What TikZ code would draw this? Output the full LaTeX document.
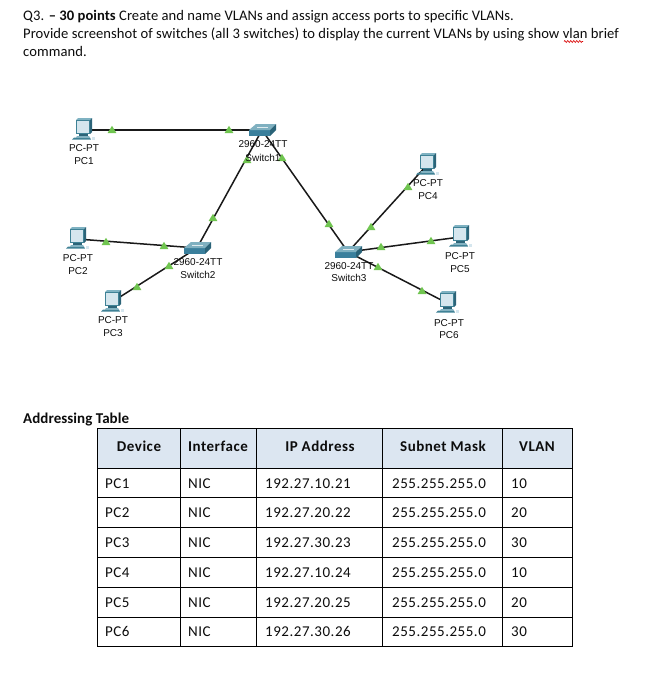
\documentclass[tikz,border=0pt]{standalone}
\usepackage{fontspec}
\setmainfont{Carlito}
\newfontfamily\pkfont{Liberation Sans}
\newfontfamily\cellfont[LetterSpace=3.5]{Carlito}
\newfontfamily\headfont[LetterSpace=0.4]{Carlito}
\usetikzlibrary{decorations.pathmorphing}
\definecolor{hdr}{HTML}{DCE6F1}
\definecolor{pcteal}{HTML}{3F8296}
\definecolor{pcdark}{HTML}{2C6478}
\definecolor{pclight}{HTML}{7FB2C2}
\definecolor{pcscreen}{HTML}{D5E6EE}
\definecolor{swtop}{HTML}{7FB0C0}
\definecolor{swfront}{HTML}{3A7F9C}
\definecolor{swside}{HTML}{2A6378}
\definecolor{linkgreen}{HTML}{70C550}
\tikzset{
  x=1pt,y=-1pt,
  body/.style={font=\headfont\fontsize{14.6}{16}\selectfont,anchor=base west,inner sep=0pt,text=black!95},
  cell/.style={font=\cellfont\fontsize{15}{16}\selectfont,anchor=base west,inner sep=0pt,text=black!95},
  headcell/.style={font=\cellfont\fontsize{15}{16}\selectfont\bfseries,anchor=base,inner sep=0pt,text=black!95},
  devlabel/.style={font=\pkfont\fontsize{10}{11}\selectfont,inner sep=0pt,anchor=base,text=black!95},
  anchorbox/.style={inner sep=0pt,minimum width=2pt,minimum height=2pt},
  link/.style={draw=black!90,line width=1.5pt},
  grid/.style={draw=black,line width=0.8pt},
  pcicon/.pic={
    \fill[pclight] (-7,-10) -- (-5,-12) -- (9,-12) -- (7,-10) -- cycle;
    \fill[pcdark] (7,-10) -- (9,-12) -- (9,2) -- (7,4) -- cycle;
    \fill[pcteal] (-7,-10) rectangle (7,4);
    \fill[pcscreen] (-5.8,-8.8) rectangle (6,2.6);
    \fill[pcdark] (-4,4) rectangle (5,6);
    \fill[pclight] (-6,6) -- (6,6) -- (7,7.5) -- (-7,7.5) -- cycle;
    \fill[pcteal] (-9,7.5) -- (7,7.5) -- (8,9.5) -- (-11,9.5) -- cycle;
    \fill[pcscreen] (9,7) rectangle (12,9.5);
  },
  swicon/.pic={
    \fill[swfront] (-13,0) -- (8,0) -- (8,6) -- (-13,6) -- cycle;
    \fill[swtop] (-13,0) -- (-6,-6) -- (14,-6) -- (8,0) -- cycle;
    \fill[swside] (8,0) -- (14,-6) -- (14,0) -- (8,6) -- cycle;
    \draw[white!75!swtop,line width=0.5pt] (-5,-3) -- (6,-3);
  },
  flag/.pic={\fill[linkgreen] (0,-4.2) -- (4.4,3) -- (-4.4,3) -- cycle;}
}
\begin{document}
\begin{tikzpicture}
\useasboundingbox (0,0) rectangle (663,681);
\fill[white] (0,0) rectangle (663,681);

% heading
\node[body] (t1) at (23,20) {Q3. \textbf{– 30 points} Create and name VLANs and assign access ports to specific VLANs.};
\node[body] (t2) at (23,38) {Provide screenshot of switches (all 3 switches) to display the current VLANs by using show vlan brief};
\node[body] (t3) at (23,56) {command.};
\draw[red!85!black,line width=0.6pt,decorate,decoration={zigzag,amplitude=1pt,segment length=3pt}] (564,41.5) -- (583,41.5);

% device anchors
\node[anchorbox] (pc1) at (83,130) {};
\node[anchorbox] (pc2) at (77,239) {};
\node[anchorbox] (pc3) at (112,302) {};
\node[anchorbox] (pc4) at (427,165) {};
\node[anchorbox] (pc5) at (460,237) {};
\node[anchorbox] (pc6) at (447,303) {};
\node[anchorbox] (s1) at (262,130) {};
\node[anchorbox] (s2) at (197,248) {};
\node[anchorbox] (s3) at (348,252) {};

% links
\draw[link] (pc1) -- (s1);
\draw[link] (pc2) -- (s2);
\draw[link] (pc3) -- (s2);
\draw[link] (s1) -- (s2);
\draw[link] (s1) -- (s3);
\draw[link] (pc4) -- (s3);
\draw[link] (pc5) -- (s3);
\draw[link] (pc6) -- (s3);

% icons
\foreach \p in {pc1,pc2,pc3,pc4,pc5,pc6} \pic at (\p) {pcicon};
\foreach \p in {s1,s2,s3} \pic at (\p) {swicon};

% link lights
\foreach \a/\b in {112/130,229/130,247/160,213/218,282/158,329/224,106/242,164/246,169/266,137/287,408/187,371/227,431/241,381/247,378/267,422/291}
  \pic at (\a,\b) {flag};

% labels
\node[devlabel] (l1a) at (84,151) {PC-PT};
\node[devlabel] (l1b) at (84,164) {PC1};
\node[devlabel] (l2a) at (78,261) {PC-PT};
\node[devlabel] (l2b) at (78,274) {PC2};
\node[devlabel] (l3a) at (113,323) {PC-PT};
\node[devlabel] (l3b) at (113,336) {PC3};
\node[devlabel] (l4a) at (428,186) {PC-PT};
\node[devlabel] (l4b) at (428,199) {PC4};
\node[devlabel] (l5a) at (460,259) {PC-PT};
\node[devlabel] (l5b) at (460,272) {PC5};
\node[devlabel] (l6a) at (449,326) {PC-PT};
\node[devlabel] (l6b) at (449,338) {PC6};
\node[devlabel] (ls1a) at (263,147) {2960-24TT};
\node[devlabel] (ls1b) at (263,161) {Switch1};
\node[devlabel] (ls2a) at (198,265) {2960-24TT};
\node[devlabel] (ls2b) at (198,278) {Switch2};
\node[devlabel] (ls3a) at (349,269) {2960-24TT};
\node[devlabel] (ls3b) at (349,281) {Switch3};

% table
\node[body,font=\headfont\fontsize{15}{16}\selectfont\bfseries] (tt) at (23,423) {Addressing Table};
\fill[hdr] (97,428) rectangle (572,468);
\draw[grid] (97,428) rectangle (572,646);
\foreach \y in {468,497.5,527.5,557.5,587.5,617}
  \draw[grid] (97,\y) -- (572,\y);
\foreach \x in {180,256,382,502}
  \draw[grid] (\x,428) -- (\x,646);

\node[headcell] (h1) at (139,451) {Device};
\node[headcell] (h2) at (218,451) {Interface};
\node[headcell] (h3) at (320,451) {IP Address};
\node[headcell] (h4) at (443,451) {Subnet Mask};
\node[headcell] (h5) at (537,451) {VLAN};

\foreach \y/\d/\ip/\v in {488/PC1/192.27.10.21/10,517/PC2/192.27.20.22/20,547/PC3/192.27.30.23/30,577/PC4/192.27.10.24/10,607/PC5/192.27.20.25/20,636/PC6/192.27.30.26/30}{
  \node[cell] at (105,\y) {\d};
  \node[cell] at (188,\y) {NIC};
  \node[cell] at (265,\y) {\ip};
  \node[cell] at (392,\y) {255.255.255.0};
  \node[cell] at (511,\y) {\v};
}
\end{tikzpicture}
\end{document}
